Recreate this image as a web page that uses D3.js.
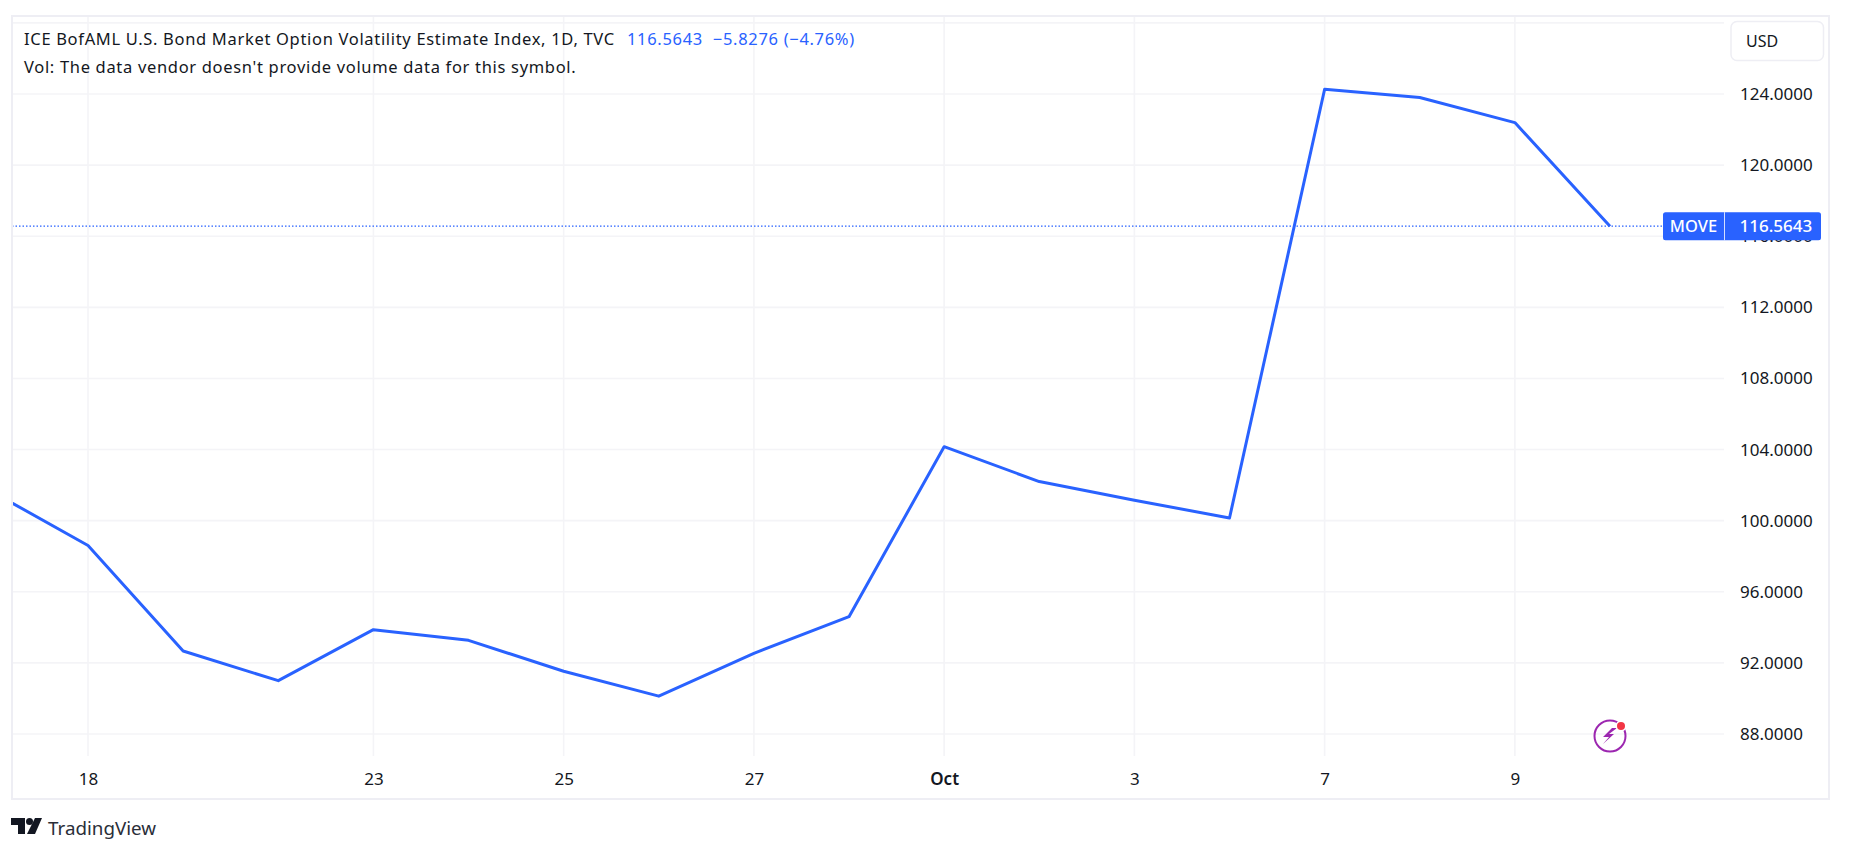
<!DOCTYPE html>
<html>
<head>
<meta charset="utf-8">
<script src="https://cdnjs.cloudflare.com/ajax/libs/d3/7.8.5/d3.min.js"></script>
<style>
  html, body { margin: 0; padding: 0; background: #fff; }
  svg { display: block; }
  text { font-family: "Noto Sans", sans-serif; fill: #131722; }
</style>
</head>
<body>
<svg id="chart" width="1862" height="850"></svg>
<script>
// MOVE index daily closes
const sessions = ["Sep 17","Sep 18","Sep 19","Sep 20","Sep 23","Sep 24","Sep 25","Sep 26","Sep 27","Sep 30","Oct 1","Oct 2","Oct 3","Oct 4","Oct 7","Oct 8","Oct 9","Oct 10"];
const closes = [101.6,98.6,92.67,91.0,93.87,93.27,91.53,90.13,92.54,94.6,104.16,102.2,101.15,100.15,124.27,123.8,122.3919,116.5643];
const timeTicks = ["Sep 18","Sep 23","Sep 25","Sep 27","Oct 1","Oct 3","Oct 7","Oct 9"];
const timeTickLabels = ["18","23","25","27","Oct","3","7","9"];
const priceTicks = [88,92,96,100,104,108,112,116,120,124];
const gridPrices = [88,92,96,100,104,108,112,116,120,124,128];
const lastPrice = 116.5643;
const seriesTag = "MOVE";
const titleText = "ICE BofAML U.S. Bond Market Option Volatility Estimate Index, 1D, TVC";
const quoteText = "116.5643  \u22125.8276 (\u22124.76%)";
const volumeNote = "Vol: The data vendor doesn't provide volume data for this symbol.";

const BLUE = "#2962ff", GRID = "#f4f4f7", FRAME = "#eeeef4", INK = "#131722";
const pane = { left: 12, right: 1724, top: 16, bottom: 756 };

const svg = d3.select("#chart");
const x = d3.scalePoint().domain(sessions).range([-7.1, 1610]);
const y = d3.scaleLinear().domain([88, 124]).range([734, 94]);

svg.append("defs").append("clipPath").attr("id", "pane")
  .append("rect")
  .attr("x", pane.left).attr("y", pane.top)
  .attr("width", pane.right - pane.left).attr("height", pane.bottom - pane.top);

// Grid
const grid = svg.append("g").attr("stroke", GRID).attr("stroke-width", 1.6);
grid.selectAll("line.h").data(gridPrices).join("line").attr("class", "h")
  .attr("x1", pane.left).attr("x2", pane.right)
  .attr("y1", d => y(d)).attr("y2", d => y(d));
grid.selectAll("line.v").data(timeTicks).join("line").attr("class", "v")
  .attr("x1", d => x(d)).attr("x2", d => x(d))
  .attr("y1", pane.top).attr("y2", pane.bottom);

// Last-price dotted guide
svg.append("line")
  .attr("x1", pane.left).attr("x2", 1663)
  .attr("y1", y(lastPrice)).attr("y2", y(lastPrice))
  .attr("stroke", BLUE).attr("stroke-width", 1.3).attr("stroke-dasharray", "1.5 2");

// Price line
const line = d3.line().x(d => x(d.s)).y(d => y(d.c));
svg.append("path")
  .datum(sessions.map((s, i) => ({ s, c: closes[i] })))
  .attr("clip-path", "url(#pane)")
  .attr("fill", "none").attr("stroke", BLUE).attr("stroke-width", 3)
  .attr("stroke-linejoin", "round")
  .attr("d", line);

// Price axis
const priceAxis = svg.append("g").attr("transform", `translate(${pane.right},0)`)
  .call(d3.axisRight(y).tickValues(priceTicks).tickSize(0).tickPadding(16).tickFormat(d3.format(".4f")));
priceAxis.select(".domain").remove();
priceAxis.selectAll("text").attr("font-size", 17).attr("font-family", '"Noto Sans", sans-serif').attr("fill", INK);

// Time axis
const timeAxis = svg.append("g").attr("transform", `translate(0,${pane.bottom})`)
  .call(d3.axisBottom(x).tickValues(timeTicks).tickSize(0).tickPadding(16.5)
    .tickFormat(d => timeTickLabels[timeTicks.indexOf(d)]));
timeAxis.select(".domain").remove();
timeAxis.selectAll("text").attr("font-size", 17).attr("font-family", '"Noto Sans", sans-serif').attr("fill", INK)
  .attr("font-weight", d => d === "Oct 1" ? 600 : 400);

// Outer frame
svg.append("rect").attr("x", 12).attr("y", 16).attr("width", 1817).attr("height", 783)
  .attr("fill", "none").attr("stroke", FRAME).attr("stroke-width", 2);

// Header legend
const legendSize = 16.5, legendTrack = 0.68;
svg.append("text").attr("x", 24).attr("y", 45).attr("font-size", legendSize).attr("letter-spacing", legendTrack).text(titleText);
svg.append("text").attr("x", 627).attr("y", 45).attr("font-size", legendSize).attr("letter-spacing", legendTrack).style("fill", BLUE)
  .style("white-space", "pre").text(quoteText);
svg.append("text").attr("x", 24).attr("y", 73).attr("font-size", legendSize).attr("letter-spacing", legendTrack).text(volumeNote);

// Currency button
svg.append("rect").attr("x", 1731).attr("y", 21.5).attr("width", 92.5).attr("height", 39).attr("rx", 6)
  .attr("fill", "#fff").attr("stroke", "#eeeef4").attr("stroke-width", 1.5);
svg.append("text").attr("x", 1746).attr("y", 47).attr("font-size", 16).text("USD");

// Last-price tag
const tag = svg.append("g");
tag.append("rect").attr("x", 1663).attr("y", y(lastPrice) - 14).attr("width", 158).attr("height", 28).attr("rx", 2.5).attr("fill", BLUE);
tag.append("line").attr("x1", 1724.5).attr("x2", 1724.5).attr("y1", y(lastPrice) - 14).attr("y2", y(lastPrice) + 14)
  .attr("stroke", "#fff").attr("stroke-opacity", 0.8);
tag.append("text").attr("x", 1693.5).attr("y", y(lastPrice) + 6).attr("text-anchor", "middle")
  .attr("font-size", 16.5).attr("font-weight", 500).style("fill", "#fff").text(seriesTag);
tag.append("text").attr("x", 1739.5).attr("y", y(lastPrice) + 6)
  .attr("font-size", 17).attr("font-weight", 500).style("fill", "#fff").text(d3.format(".4f")(lastPrice));

// Alert badge
const badge = svg.append("g").attr("transform", "translate(1610,736)");
badge.append("circle").attr("r", 15.5).attr("fill", "none").attr("stroke", "#9c27b0").attr("stroke-width", 2);
badge.append("path").attr("d", "M7,-8 L-1,-2 L4,-2 L-7,8 L-1,1 L-7,1 L2,-8 Z").attr("fill", "#9c27b0");
badge.append("circle").attr("cx", 11).attr("cy", -10).attr("r", 5.5).attr("fill", "#fff");
badge.append("circle").attr("cx", 11).attr("cy", -10).attr("r", 4).attr("fill", "#f23645");

// Wordmark
const mark = svg.append("g").attr("transform", "translate(11,818)").attr("fill", "#131722");
mark.append("path").attr("d", "M0,0 H14 V16 H7 V7 H0 Z");
mark.append("circle").attr("cx", 18.5).attr("cy", 3.5).attr("r", 3.5);
mark.append("path").attr("d", "M24,0 H31 L24,16 H16 Z");
svg.append("text").attr("x", 48).attr("y", 835).attr("font-size", 18.8).style("fill", "#2a2e39").text("TradingView");
</script>
</body>
</html>
